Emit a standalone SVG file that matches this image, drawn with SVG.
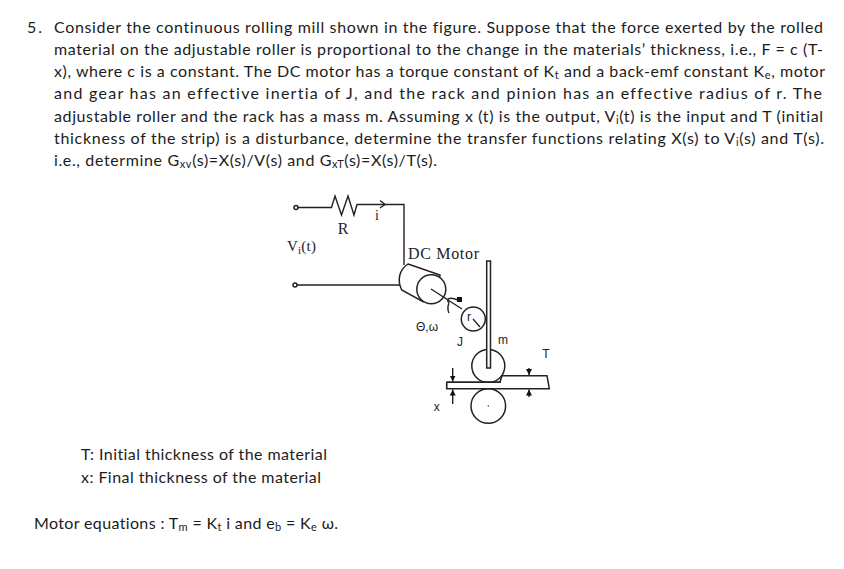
<svg xmlns="http://www.w3.org/2000/svg" width="844" height="569" viewBox="0 0 844 569">
<defs>
<marker id="ah" markerWidth="7" markerHeight="7" refX="6" refY="3" orient="auto" markerUnits="userSpaceOnUse"><path d="M0 0L6 3L0 6Z" fill="#111"/></marker>
</defs>
<style>
.t{font-family:Lato,"Noto Sans",sans-serif;font-size:16px;fill:#1c1c1c;font-variant-ligatures:none}
.s{font-family:"Liberation Serif",serif;fill:#222}
.a{font-family:"Liberation Sans",sans-serif;fill:#222;font-size:12px}
.l{fill:none;stroke:#222;stroke-width:1.400}
.w{fill:#fff;stroke:#222;stroke-width:1.500}
.sub{font-size:11px}
</style>
<rect width="844" height="569" fill="#fff"/>
<g id="problem-text">
<text class="t" x="27" y="33" textLength="15">5.</text>
<text class="t" x="54" y="33" textLength="769">Consider the continuous rolling mill shown in the figure. Suppose that the force exerted by the rolled</text>
<text class="t" x="54" y="55" textLength="769">material on the adjustable roller is proportional to the change in the materials’ thickness, i.e., F = c (T-</text>
<text class="t" x="54" y="77" textLength="771">x), where c is a constant. The DC motor has a torque constant of K<tspan class="sub" dy="2">t</tspan><tspan dy="-2"> and a back-emf constant K</tspan><tspan class="sub" dy="2">e</tspan><tspan dy="-2">, motor</tspan></text>
<text class="t" x="54" y="99" textLength="768">and gear has an effective inertia of J, and the rack and pinion has an effective radius of r.  The</text>
<text class="t" x="54" y="122" textLength="769">adjustable roller and the rack has a mass m. Assuming x (t) is the output, V<tspan class="sub" dy="2">i</tspan><tspan dy="-2">(t) is the input and T (initial</tspan></text>
<text class="t" x="54" y="144" textLength="770">thickness of the strip) is a disturbance, determine the transfer functions relating X(s) to V<tspan class="sub" dy="2">i</tspan><tspan dy="-2">(s) and T(s).</tspan></text>
<text class="t" x="54" y="166" textLength="383">i.e., determine  G<tspan class="sub" dy="2">xv</tspan><tspan dy="-2">(s)=X(s)/V(s) and G</tspan><tspan class="sub" dy="2">xT</tspan><tspan dy="-2">(s)=X(s)/T(s).</tspan></text>
</g>
<g id="connectors">
<path class="l" d="M298 207.500H331.500L335 196L341.500 215L348 196L354 215L357 204.500H404V265"/>
<path class="l" d="M297 285H400"/>
<path class="l" d="M380 200.500L385 204.500L380 208"/>
</g>
<g id="terminals"><circle class="w" cx="296" cy="207.500" r="2"/><circle class="w" cx="295" cy="285" r="2"/></g>
<g id="labels-circuit">
<text class="s" x="377" y="220" font-size="14" text-anchor="middle">i</text>
<text class="s" x="343" y="234" font-size="16" text-anchor="middle">R</text>
<text class="s" x="287" y="251" font-size="15" textLength="29">V<tspan font-size="11" dy="3">i</tspan><tspan dy="-3">(t)</tspan></text>
</g>
<g id="motor">
<path class="w" d="M408 264L440 275L436 298L423 301.700L401.700 290C397 280 399 270 408 264Z"/>
<circle class="w" cx="431.300" cy="289.300" r="14.500"/>
<path class="l" d="M431 289L462 309"/>
<text class="s" x="408" y="259" font-size="16" textLength="71">DC Motor</text>
</g>
<g id="gear">
<path class="l" d="M449 303C445 298 451 297 458 300M449 303C447 308 448 311 449 313"/>
<rect x="457" y="297" width="5" height="5" fill="#111"/>
<circle class="w" cx="473.300" cy="319" r="12"/>
<path class="l" d="M473 319L480 327"/>
<text class="a" x="469" y="321" text-anchor="middle">r</text>
<text class="a" x="427" y="331" font-size="13.500" text-anchor="middle">Θ,ω</text>
<text class="a" x="460" y="346" font-size="13" text-anchor="middle">J</text>
</g>
<g id="rollers">
<circle class="w" cx="488.300" cy="366" r="16.500"/>
<circle class="w" cx="488.300" cy="406" r="17.300"/>
<circle cx="488.300" cy="406" r="0.700" fill="#222"/>
</g>
<g id="strip">
<path class="w" d="M446.700 382.300H500L502 375.700H547L549.300 388.700H446.700Z"/>
<path d="M447.500 383H500.500V388H447.500Z" fill="#fff"/>
<path class="l" d="M446.700 382.300H501M446.700 382.300V388.700"/>
</g>
<g id="rack">
<rect class="w" x="486.700" y="261" width="3.800" height="107"/>
<text class="a" x="503" y="344" font-size="13" text-anchor="middle">m</text>
</g>
<g id="dimension-arrows">
<path class="l" marker-end="url(#ah)" d="M452.700 368V381.500"/>
<path class="l" marker-end="url(#ah)" d="M452.700 404V389.500"/>
<path class="l" marker-end="url(#ah)" d="M529 368V375"/>
<path class="l" marker-end="url(#ah)" d="M529 397V389.500"/>
<text class="a" x="436.700" y="411" font-size="13" text-anchor="middle">x</text>
<text class="a" x="546" y="358" font-size="13" text-anchor="middle">T</text>
</g>
<g id="notes">
<text class="t" x="81" y="460" textLength="246">T: Initial thickness of the material</text>
<text class="t" x="81" y="483" textLength="240">x: Final thickness of the material</text>
<text class="t" x="34" y="529" textLength="304">Motor equations  : T<tspan class="sub" dy="2">m</tspan><tspan dy="-2"> = K</tspan><tspan class="sub" dy="2">t</tspan><tspan dy="-2"> i  and e</tspan><tspan class="sub" dy="2">b</tspan><tspan dy="-2"> = K</tspan><tspan class="sub" dy="2">e</tspan><tspan dy="-2"> ω.</tspan></text>
</g>
</svg>
